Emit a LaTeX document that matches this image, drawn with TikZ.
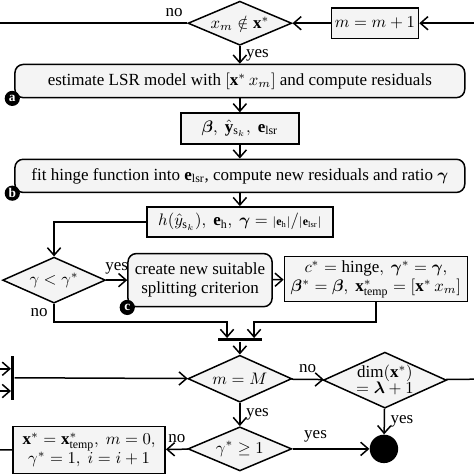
\documentclass[tikz,border=0pt]{standalone}
\usepackage{amsmath}
\usepackage{bm}
\usepackage{fontspec}
\setmainfont{Liberation Serif}
\usepackage{tikz}
\usetikzlibrary{positioning, arrows.meta, shapes.geometric}
\definecolor{boxgray}{HTML}{F4F4F4}
\tikzstyle{arrow} = [line width=0.9pt,-{Straight Barb[length=1.6mm,width=2.8mm]}]
\tikzstyle{line} = [line width=0.9pt]
\tikzstyle{sblock} = [rectangle, draw, line width=0.9pt, fill=boxgray,
align=center, inner sep=1pt]
\tikzstyle{rblock} = [sblock, rounded corners=5pt]
\tikzstyle{decision} = [diamond, draw, line width=0.9pt, fill=boxgray,
aspect=2.2, inner sep=0pt, align=center]
\tikzstyle{marker} = [circle, fill=black, text=white, inner sep=0pt,
minimum size=0.32cm, font=\bfseries\footnotesize]
\tikzstyle{hbar} = [rectangle, fill=black, inner sep=0pt, minimum width=0.93cm, minimum height=1.8pt]
\tikzstyle{vbar} = [rectangle, fill=black, inner sep=0pt, minimum width=1.8pt, minimum height=0.93cm]
\begin{document}
\begin{tikzpicture}[node distance=1cm]
        \tikzstyle{every node}=[font=\fontsize{10.2}{11.6}\selectfont]
        \useasboundingbox (0,0) rectangle (10,-10);
        \node (Cond) [decision, minimum width=2.19cm, minimum height=0.93cm] at (5.06,-0.49) {$x_m \notin \mathbf{x}^*$};
        \node (Incr) [sblock, minimum width=1.84cm, minimum height=0.65cm, right of=Cond, xshift=1.85cm] {$m = m+1$};
        \node (LSR) [rblock, minimum width=9.49cm, minimum height=0.7cm, below of=Cond, yshift=-0.22cm] {estimate LSR model with $[\mathbf{x}^*\,x_m]$ and compute residuals};
        \node (Params) [sblock, minimum width=2.49cm, minimum height=0.65cm, below of=LSR] {$\bm{\beta},\ \hat{\mathbf{y}}_{\mathrm{s}_k},\ \mathbf{e}_{\mathrm{lsr}}$};
        \node (Hinge) [rblock, minimum width=9.49cm, minimum height=0.7cm, below of=Params] {fit hinge function into $\mathbf{e}_{\mathrm{lsr}}$, compute new residuals and ratio $\bm{\gamma}$};
        \node (Ratio) [sblock, minimum width=3.92cm, minimum height=0.63cm, below of=Hinge, yshift=0.03cm] {$h(\hat{y}_{\mathrm{s}_k}),\ \mathbf{e}_{\mathrm{h}},\ \bm{\gamma} = {\scriptstyle|\mathbf{e}_{\mathrm{h}}|}/{\scriptstyle|\mathbf{e}_{\mathrm{lsr}}|}$};
        \node (Gamma) [decision, minimum width=2.17cm, minimum height=0.97cm, below of=Ratio, xshift=-3.92cm, yshift=-0.23cm] {$\gamma < \gamma^*$};
        \node (Create) [rblock, minimum width=3.04cm, minimum height=1.12cm, right of=Gamma, xshift=2.08cm] {create new suitable\\splitting criterion};
        \node (Store) [sblock, minimum width=3.86cm, minimum height=0.95cm, right of=Create, xshift=2.71cm, yshift=0.02cm] {$c^* = \text{hinge},\ \bm{\gamma}^* = \bm{\gamma},$\\$\bm{\beta}^* = \bm{\beta},\ \mathbf{x}^*_{\text{temp}} = [\mathbf{x}^*\,x_m]$};
        \node (Join) [hbar, below of=Ratio, yshift=-1.49cm] {};
        \node (MM) [decision, minimum width=2.19cm, minimum height=0.99cm, below of=Join, yshift=0.18cm] {$m = M$};
        \node (Dim) [decision, minimum width=2.45cm, minimum height=1.16cm, right of=MM, xshift=2.06cm, yshift=-0.03cm] {$\dim(\mathbf{x}^*)$\\[-2pt]$= \bm{\lambda} + 1$};
        \node (GStar) [decision, minimum width=2.19cm, minimum height=0.93cm, below of=MM, yshift=-0.48cm] {$\gamma^* \geq 1$};
        \node (Reset) [sblock, minimum width=3.21cm, minimum height=0.99cm, left of=GStar, xshift=-2.18cm, yshift=-0.02cm] {$\mathbf{x}^* = \mathbf{x}^*_{\text{temp}},\ m = 0,$\\$\gamma^* = 1,\ i = i+1$};
        \node (End) [circle, fill=black, minimum size=0.6cm, right of=GStar, xshift=2.04cm] {};
        \node (LBar) [vbar] at (0.27,-7.97) {};
        \node (MarkA) [marker] at ([xshift=-0.04cm]LSR.south west) {a};
        \node (MarkB) [marker] at ([xshift=-0.04cm]Hinge.south west) {b};
        \node (MarkC) [marker] at (Create.south west) {c};
        \coordinate (OutA) at (0,-0.49);
        \coordinate (InR) at (10,-0.49);
        \coordinate (InA) at (0,-7.78);
        \coordinate (InB) at (0,-8.25);
        \coordinate (OutR) at (10,-8.0);
        \coordinate (OutL) at (0,-9.49);
        \coordinate (Mid) at (0,-6.79);

        \draw [line] (Cond) -- node[pos=0.07, anchor=south] {no} (OutA);
        \draw [arrow] (InR) -- (Incr);
        \draw [arrow] (Incr) -- (Cond);
        \draw [arrow] (Cond) -- node[anchor=west] {yes} (LSR);
        \draw [arrow] (LSR) -- (Params);
        \draw [arrow] (Params) -- (Hinge);
        \draw [arrow] (Hinge) -- (Ratio);
        \draw [arrow] (Ratio.west) -| (Gamma.north);
        \draw [arrow] (Gamma) -- node[anchor=south] {yes} (Create);
        \draw [arrow] (Create) -- (Store);
        \draw [arrow] (Gamma.south) -- node[anchor=east] {no} (Gamma.south |- Mid) -| ([xshift=-0.27cm]Join.north);
        \draw [arrow] (Store.south) -- (Store.south |- Mid) -| ([xshift=0.3cm]Join.north);
        \draw [arrow] (Join) -- (MM);
        \draw [arrow] (InA) -- (InA -| LBar.west);
        \draw [arrow] (InB) -- (InB -| LBar.west);
        \draw [arrow] (LBar) -- (MM);
        \draw [arrow] (MM) -- node[anchor=south] {no} (Dim);
        \draw [line] (Dim) -- (OutR);
        \draw [arrow] (MM) -- node[anchor=west] {yes} (GStar);
        \draw [arrow] (Dim) -- node[anchor=west] {yes} (End);
        \draw [arrow] (GStar) -- node[anchor=south] {no} (Reset);
        \draw [arrow] (GStar) -- node[pos=0.3, anchor=south] {yes} (End);
        \draw [line] (Reset) -- (OutL);
        \end{tikzpicture}
\end{document}
